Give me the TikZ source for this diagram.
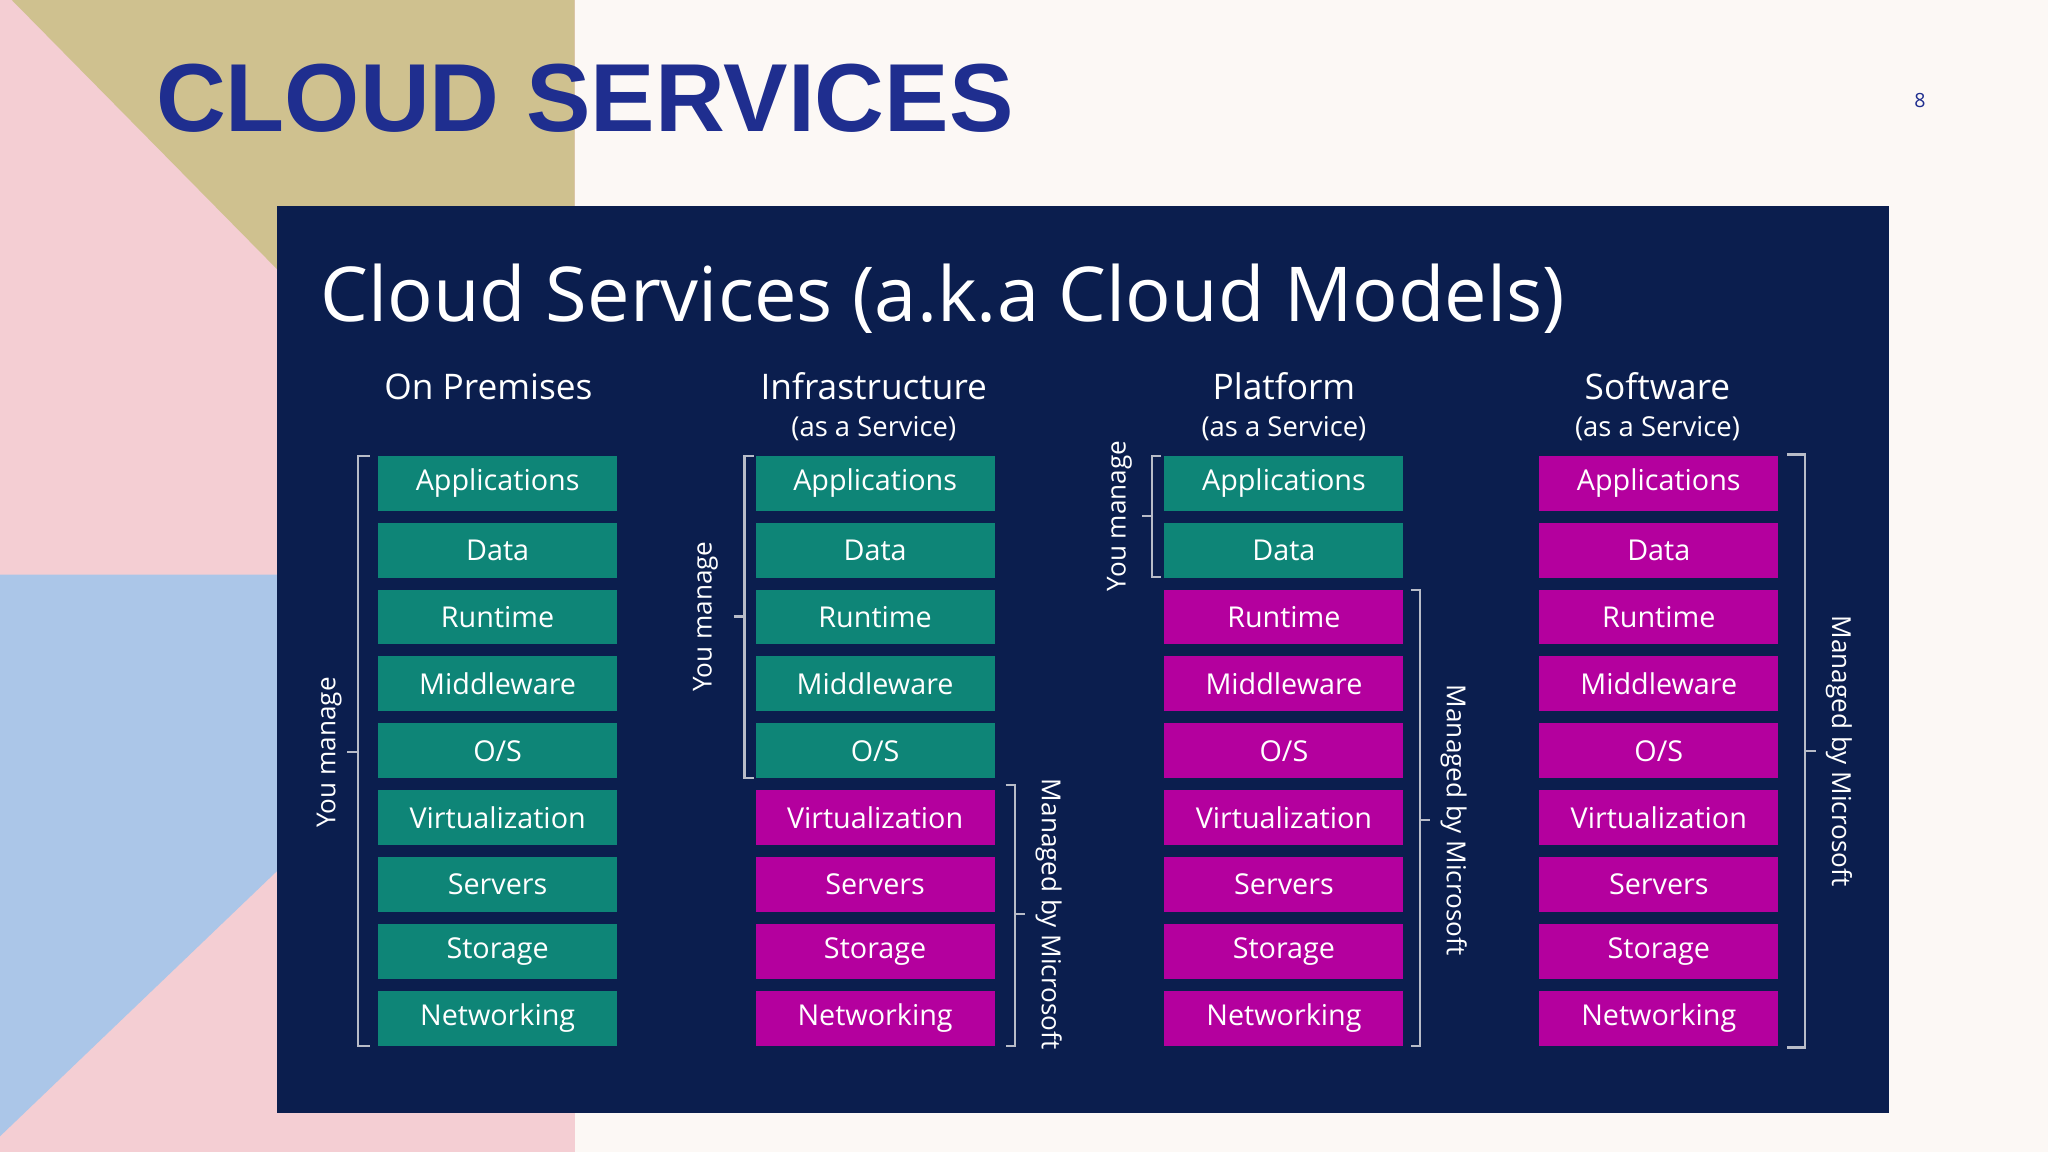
\documentclass[tikz,border=0pt]{standalone}
\usepackage{fontspec}
\setmainfont{Open Sans}
\newfontfamily\heavy{Liberation Sans}
\definecolor{cream}{HTML}{FCF8F5}
\definecolor{cpink}{HTML}{F4CED3}
\definecolor{ctan}{HTML}{CFC18F}
\definecolor{cblue}{HTML}{ABC6E8}
\definecolor{ctitle}{HTML}{1F2E8F}
\definecolor{cpanel}{HTML}{0B1E4E}
\definecolor{cteal}{HTML}{0E8577}
\definecolor{cmag}{HTML}{B4009E}
\definecolor{cline}{HTML}{B8BCC8}
\begin{document}
\begin{tikzpicture}[x=1pt,y=-1pt,
  box/.style={minimum width=183pt,minimum height=42pt,inner sep=0pt,text=white,font=\fontsize{22}{22}\selectfont},
  head/.style={text=white,font=\fontsize{27}{27}\selectfont},
  sub/.style={text=white,font=\fontsize{21}{21}\selectfont},
  side/.style={text=white,font=\fontsize{20}{20}\selectfont},
  brk/.style={cline,line width=1.6pt}]
\useasboundingbox (0,0) rectangle (1568,882);
\fill[cream] (0,0) rectangle (1568,882);
\fill[cpink] (0,0) rectangle (440,882);
\fill[ctan] (9,0) -- (440,0) -- (440,206) -- (212,206) -- cycle;
\fill[cblue] (0,440) -- (212,440) -- (212,667) -- (0,870) -- cycle;
\node[anchor=west,text=ctitle,font=\heavy\bfseries\fontsize{74}{74}\selectfont] (title) at (116,75) {CLOUD SERVICES};
\node[text=ctitle,font=\fontsize{15}{15}\selectfont] (pg) at (1470,77) {8};
\fill[cpanel] (212,158) rectangle (1446,852);
\node[anchor=west,text=white,font=\fontsize{58}{58}\selectfont] (sub) at (242,229) {Cloud Services (a.k.a Cloud Models)};
% column headers
\node[head] (h1) at (374,296) {On Premises};
\node[head] (h2) at (669,296) {Infrastructure};
\node[sub] (s2) at (669,328) {(as a Service)};
\node[head] (h3) at (983,296) {Platform};
\node[sub] (s3) at (983,328) {(as a Service)};
\node[head] (h4) at (1269,296) {Software};
\node[sub] (s4) at (1269,328) {(as a Service)};
% boxes: column x / number of teal rows
\foreach \x/\n/\k in {381/9/a,670/5/b,983/2/c,1270/0/d}{
  \foreach \t [count=\i] in {Applications,Data,Runtime,Middleware,O/S,Virtualization,Servers,Storage,Networking}{
    \pgfmathsetmacro\yy{370+(\i-1)*51.2}
    \ifnum\i>\n \def\cc{cmag}\else\def\cc{cteal}\fi
    \node[box,fill=\cc] (\k\i) at (\x,\yy) {\t};
  }
}
% brackets
\draw[brk] (283,349) -- (274,349) -- (274,801) -- (283,801);
\draw[brk] (274,576) -- (266,576);
\node[side,rotate=90] (ym1) at (252,576) {You manage};
\draw[brk] (577,349) -- (570,349) -- (570,596) -- (577,596);
\draw[brk] (570,472) -- (562,472);
\node[side,rotate=90] (ym2) at (540,472) {You manage};
\draw[brk] (770,601) -- (777,601) -- (777,801) -- (770,801);
\draw[brk] (777,700) -- (785,700);
\node[side,rotate=-90] (mm2) at (803,700) {Managed by Microsoft};
\draw[brk] (889,349) -- (882,349) -- (882,442) -- (889,442);
\draw[brk] (882,395) -- (874,395);
\node[side,rotate=90] (ym3) at (857,395) {You manage};
\draw[brk] (1080,452) -- (1087,452) -- (1087,801) -- (1080,801);
\draw[brk] (1087,628) -- (1095,628);
\node[side,rotate=-90] (mm3) at (1113,628) {Managed by Microsoft};
\draw[brk] (1368,348) -- (1382,348) -- (1382,802) -- (1368,802);
\draw[brk] (1382,575) -- (1390,575);
\node[side,rotate=-90] (mm4) at (1408,575) {Managed by Microsoft};
\end{tikzpicture}
\end{document}
